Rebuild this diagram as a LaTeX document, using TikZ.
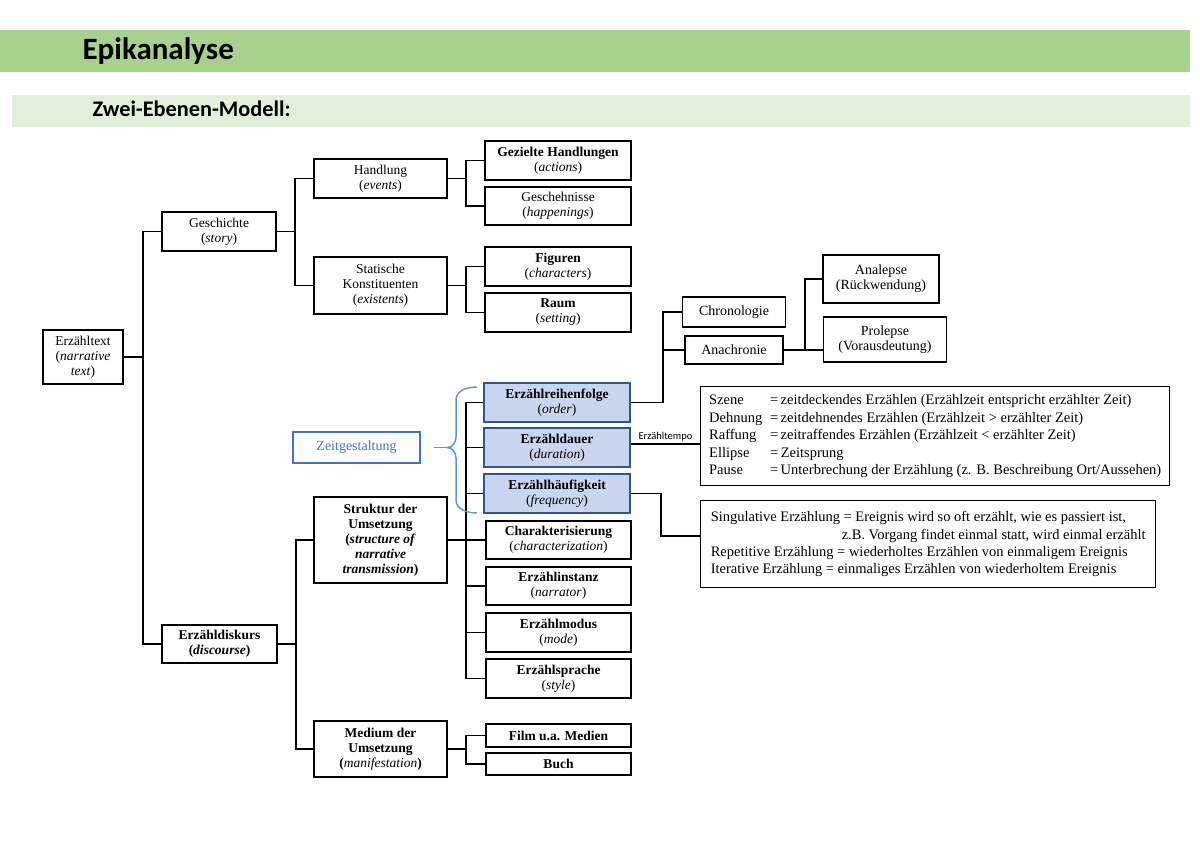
\documentclass[tikz,border=0pt]{standalone}
\usepackage{fontspec}
\setmainfont{Liberation Serif}
\newfontfamily\calibri{Carlito}
\definecolor{barhead}{HTML}{A9D18E}
\definecolor{barsub}{HTML}{E2F0D9}
\definecolor{timefill}{HTML}{C9D6EF}
\definecolor{timeedge}{HTML}{2F5597}
\definecolor{zeitblue}{HTML}{4472C4}
\definecolor{bracecol}{HTML}{5B9BD5}
\newcommand\tempoitem[2]{\makebox[61pt][l]{#1}=\,#2}
\tikzset{every path/.style={line width=1.2pt},
  wh/.style 2 args={minimum width=#1pt, minimum height=#2pt},
  box/.style={draw, inner sep=0pt, align=center, font=\fontsize{13.5}{15}\selectfont},
  boldbox/.style={box, font=\fontsize{13.5}{15}\selectfont\bfseries},
  timebox/.style={box, fill=timefill, draw=timeedge, line width=1.8pt},
  sidebox/.style={draw, line width=1.4pt, inner sep=0pt, align=center, font=\fontsize{14}{15}\selectfont},
  notebox/.style={draw, line width=1.4pt, inner sep=0pt, align=left, anchor=north west, font=\fontsize{14.5}{17.4}\selectfont},
  tempolabel/.style={inner sep=0pt, font=\calibri\fontsize{10.5}{11}\selectfont},
  brace/.style={draw=bracecol, line width=1.5pt}}

\begin{document}
\begin{tikzpicture}[x=1pt,y=-1pt]
  \useasboundingbox (0,0) rectangle (1200,848);
  % headings
  \fill[barhead] (0,30) rectangle (1190,72);
  \fill[barsub] (12,95) rectangle (1190,127);
  \node[anchor=base west, inner sep=0pt, font=\calibri\bfseries\fontsize{31}{31}\selectfont] (title) at (82,59.5) {Epikanalyse};
  \node[anchor=base west, inner sep=0pt, font=\calibri\bfseries\fontsize{22.3}{23}\selectfont] (subtitle) at (92,116.7) {Zwei-Ebenen-Modell:};

  % tree
  \node[box, wh={80}{54}] (text) at (83,357) {Erzähltext\\(\textit{narrative}\\\textit{text})};
  \node[box, wh={114}{39}] (story) at (219,231.5) {Geschichte\\(\textit{story})};
  \node[boldbox, wh={115}{38}] (disc) at (219.5,644) {Erzähldiskurs\\(\textit{discourse})};
  \node[box, wh={133}{39}] (hand) at (380.5,178.5) {Handlung\\(\textit{events})};
  \node[box, wh={133}{57}] (stat) at (380.5,285.5) {Statische\\Konstituenten\\(\textit{existents})};
  \node[boldbox, wh={133}{86}] (struk) at (380.5,540) {Struktur der\\Umsetzung\\(\textit{structure of}\\\textit{narrative}\\\textit{transmission})};
  \node[boldbox, wh={133}{56}] (med) at (380.5,749) {Medium der\\Umsetzung\\(\textit{\mdseries manifestation})};
  \node[box, wh={146}{39}] (ziel) at (558,160.5) {\textbf{Gezielte Handlungen}\\(\textit{actions})};
  \node[box, wh={146}{38}] (happ) at (558,206) {Geschehnisse\\(\textit{happenings})};
  \node[box, wh={146}{39}] (fig) at (558,266.5) {\textbf{Figuren}\\(\textit{characters})};
  \node[box, wh={146}{39}] (raum) at (558,312.5) {\textbf{Raum}\\(\textit{setting})};
  \node[timebox, wh={146}{39}] (order) at (557,402.5) {\textbf{Erzählreihenfolge}\\(\textit{order})};
  \node[timebox, wh={146}{39}] (dur) at (557,447.5) {\textbf{Erzähldauer}\\(\textit{duration})};
  \node[timebox, wh={146}{39}] (freq) at (557,493.5) {\textbf{Erzählhäufigkeit}\\(\textit{frequency})};
  \node[box, wh={145}{38}] (char) at (558.5,540) {\textbf{Charakterisierung}\\(\textit{characterization})};
  \node[box, wh={145}{38}] (inst) at (558.5,586) {\textbf{Erzählinstanz}\\(\textit{narrator})};
  \node[box, wh={145}{39}] (modus) at (558.5,632.5) {\textbf{Erzählmodus}\\(\textit{mode})};
  \node[box, wh={145}{39}] (sprache) at (558.5,678.5) {\textbf{Erzählsprache}\\(\textit{style})};
  \node[boldbox, wh={145}{23}] (film) at (558.5,735.5) {Film u.a. Medien};
  \node[boldbox, wh={145}{22}] (buch) at (558.5,764) {Buch};

  \coordinate (trunk) at (143,357);
  \draw (text.east) -- (trunk);
  \draw (story.west) -| (trunk) |- (disc.west);
  \coordinate (storybus) at (295,231.5);
  \draw (story.east) -- (storybus);
  \draw (hand.west) -| (storybus) |- (stat.west);
  \coordinate (handbus) at (466,178.5);
  \draw (hand.east) -- (handbus);
  \draw (ziel.west) -| (handbus) |- (happ.west);
  \coordinate (statbus) at (466,285.5);
  \draw (stat.east) -- (statbus);
  \draw (fig.west) -| (statbus) |- (raum.west);
  \coordinate (discbus) at (296,644);
  \draw (disc.east) -- (discbus);
  \draw (struk.west) -| (discbus) |- (med.west);
  \coordinate (strukbus) at (466,540);
  \draw (struk.east) -- (strukbus);
  \draw (order.west) -| (strukbus) |- (sprache.west);
  \foreach \n in {dur,freq,char,inst,modus}
    \draw (\n.west) -- (\n.west -| strukbus);
  \coordinate (medbus) at (466,749);
  \draw (med.east) -- (medbus);
  \draw (film.west) -| (medbus) |- (buch.west);

  % Zeitgestaltung
  \node[sidebox, draw=zeitblue, text=zeitblue, wh={127}{31}] (zeit) at (356.5,447.5) {Zeitgestaltung};
  \draw[brace] (477,387) to[out=180,in=90] (456,400) -- (456,437) to[out=-90,in=0] (447,447.5)
    to[out=0,in=90] (456,458) -- (456,500) to[out=-90,in=180] (477,513);
  \draw[brace] ([xshift=13pt]zeit.east) -- (447,447.5);

  % right side
  \node[sidebox, wh={103}{30}] (chrono) at (734,312) {Chronologie};
  \node[sidebox, wh={98}{28}] (anach) at (734,350) {Anachronie};
  \node[sidebox, wh={116}{48}] (ana) at (881,279) {Analepse\\(Rückwendung)};
  \node[sidebox, wh={123}{45}] (pro) at (885,339.5) {Prolepse\\(Vorausdeutung)};
  \node[notebox, wh={469}{99}] (tempo) at (700,386) {%
    \tempoitem{Szene}{zeitdeckendes Erzählen (Erzählzeit entspricht erzählter Zeit)}\\
    \tempoitem{Dehnung}{zeitdehnendes Erzählen (Erzählzeit > erzählter Zeit)}\\
    \tempoitem{Raffung}{zeitraffendes Erzählen (Erzählzeit < erzählter Zeit)}\\
    \tempoitem{Ellipse}{Zeitsprung}\\
    \tempoitem{Pause}{Unterbrechung der Erzählung (z. B. Beschreibung Ort/Aussehen)}};
  \node[notebox, wh={455}{87}] (sing) at (700,500) {%
    Singulative Erzählung = Ereignis wird so oft erzählt, wie es passiert ist,\\
    \hspace*{131pt}z.B. Vorgang findet einmal statt, wird einmal erzählt\\
    Repetitive Erzählung = wiederholtes Erzählen von einmaligem Ereignis\\
    Iterative Erzählung = einmaliges Erzählen von wiederholtem Ereignis};

  \coordinate (orderbus) at (663,402.5);
  \draw (order.east) -- (orderbus) |- (chrono.west);
  \draw (anach.west) -- (anach.west -| orderbus);
  \coordinate (anabus) at (805,350);
  \draw (anach.east) -- (anach.east -| pro.west);
  \draw (ana.west) -| (anabus);
  \draw ([yshift=3.5pt]dur.east) -- ([yshift=3.5pt]dur.east -| tempo.west)
    node[midway, above=2pt, tempolabel] (tempolbl) {Erzähltempo};
  \coordinate (freqbend) at (661,536);
  \draw (freq.east) -| (freqbend) -- (freqbend -| sing.west);
\end{tikzpicture}
\end{document}
